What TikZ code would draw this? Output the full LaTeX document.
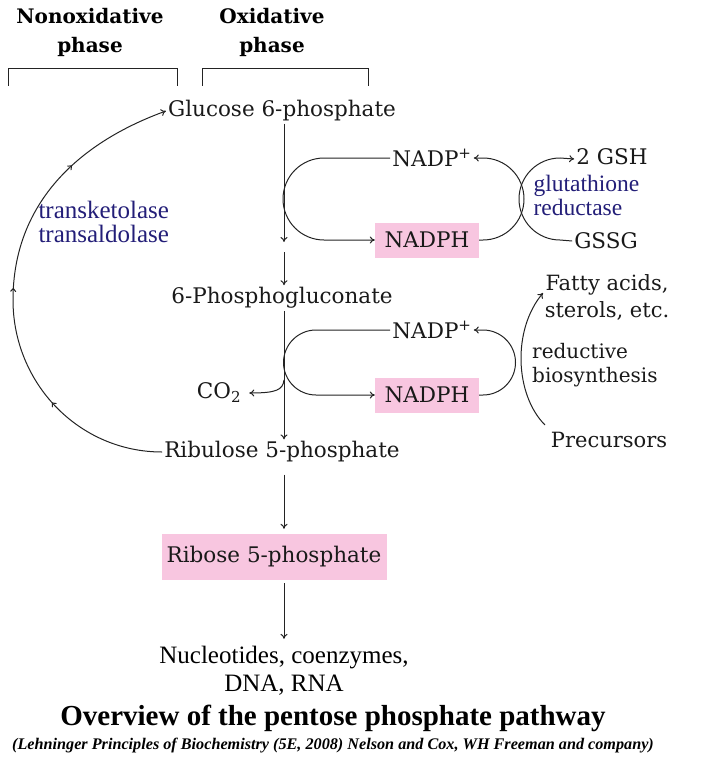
\documentclass[tikz,border=0pt]{standalone}
\usepackage{fontspec}
\usepackage{graphicx}
\usetikzlibrary{arrows.meta,decorations.markings}

\setmainfont{DejaVu Serif}
\newfontfamily\timesfont{Liberation Serif}
\definecolor{enzblue}{RGB}{35,30,120}
\definecolor{boxpink}{RGB}{248,198,224}
\definecolor{linegray}{RGB}{35,35,35}

\tikzset{
  met/.style={font=\fontsize{21.5}{26}\selectfont, inner sep=2pt, text=black!90},
  pinkbox/.style={met, fill=boxpink, minimum height=35pt, minimum width=104pt},
  enz/.style={font=\timesfont\fontsize{25}{24}\selectfont, text=enzblue, align=left},
  flow/.style={linegray, line width=1pt, -{To[length=5pt,width=7pt]}},
  midtip/.style={postaction={decorate}, decoration={markings,
      mark=at position 0.25 with {\arrow{To[length=4pt,width=6pt]}},
      mark=at position 0.5 with {\arrow{To[length=4pt,width=6pt]}},
      mark=at position 0.78 with {\arrow{To[length=4pt,width=6pt]}}}},
}

\begin{document}
\begin{tikzpicture}[x=1pt,y=1pt]
\useasboundingbox (0,0) rectangle (707,-765);

% phase headings with their brackets
\foreach \cx/\txt/\xl/\xr in {90/Nonoxidative/8/177, 272/Oxidative/202/368}{
  \node[font=\bfseries\fontsize{20}{29}\selectfont, align=center] (hd\xl) at (\cx,-32) {\txt\\phase};
  \draw[linegray, line width=1pt] (\xl,-86) -- (\xl,-69) -- (\xr,-69) -- (\xr,-86);
}

% main chain
\coordinate (spine) at (284,0);
\node[met] (glc) at (282,-111) {Glucose 6-phosphate};
\node[met] (pgl) at (282,-298) {6-Phosphogluconate};
\node[met] (rul) at (282,-452) {Ribulose 5-phosphate};
\node[met, fill=boxpink, minimum width=225pt, minimum height=46pt] (rib) at (274,-557) {Ribose 5-phosphate};
\node[font=\timesfont\fontsize{25}{28}\selectfont, align=center] (nuc) at (284,-671) {Nucleotides, coenzymes,\\DNA, RNA};

\coordinate (splita) at (284,-242);
\coordinate (splitb) at (284,-252);
\draw[flow] (glc.south -| spine) -- (splita);
\draw[flow] (splitb) -- (pgl.north -| spine);
\draw[flow] (pgl.south -| spine) -- (rul.north -| spine);
\draw[flow, shorten <=10pt, shorten >=5pt] (rul.south -| spine) -- (rib.north -| spine);
\draw[flow, shorten <=3pt, shorten >=4pt] (rib.south -| spine) -- (nuc.north -| spine);

% CO2 release
\node[met] (co2) at (219,-393) {CO\textsubscript{2}};
\coordinate (co2src) at (284,-380);
\draw[flow] (co2src) .. controls (283,-390) and (276,-393) .. ([xshift=6pt]co2.east);

% first NADPH cycle (glutathione)
\node[met] (nadpa) at (432,-158) {NADP\textsuperscript{+}};
\node[pinkbox] (nadpha) at (427,-240) {NADPH};
\draw[flow] (nadpa.west) -- (324,-158) arc[start angle=90, end angle=270, radius=41] -- (nadpha.west);
\draw[flow] (nadpha.east) -- (483,-240) arc[start angle=-90, end angle=90, radius=41] -- (nadpa.east);

\node[met] (gsh) at (612,-157) {2 GSH};
\node[met] (gssg) at (606,-241) {GSSG};
\node[enz, font=\timesfont\fontsize{23.5}{24}\selectfont, anchor=west] (gr) at (530,-195) {glutathione\\reductase};
\draw[flow] (gssg.west) -- (560,-240) arc[start angle=270, end angle=90, radius=41] -- (gsh.west |- 0,-159);

% second NADPH cycle (reductive biosynthesis)
\node[met] (nadpb) at (432,-330) {NADP\textsuperscript{+}};
\node[pinkbox] (nadphb) at (427,-395) {NADPH};
\draw[flow] (nadpb.west) -- (316,-330) arc[start angle=90, end angle=270, radius=32.5] -- (nadphb.west);
\draw[flow] (nadphb.east) -- (483,-395) arc[start angle=-90, end angle=90, radius=32.5] -- (nadpb.east);

\node[met, align=center, font=\fontsize{21}{27}\selectfont] (fatty) at (607,-297) {Fatty acids,\\sterols, etc.};
\node[met, font=\fontsize{21}{26}\selectfont] (prec) at (609,-440) {Precursors};
\node[met, align=left, anchor=west, font=\fontsize{20}{24}\selectfont] (redbio) at (530,-365) {reductive\\biosynthesis};
\coordinate (precout) at (545,-425);
\coordinate (fattyin) at (543,-293);
\draw[flow] (precout) .. controls (515,-395) and (512,-330) .. (fattyin);

% regeneration of glucose 6-phosphate
\node[enz, anchor=west] (tk) at (35,-222) {transketolase\\transaldolase};
\coordinate (farleft) at (13,-300);
\draw[flow, midtip] (rul.west) to[out=180, in=270] (farleft) to[out=90, in=200] (glc.west);

% caption
\node[font=\timesfont\bfseries\fontsize{29}{32}\selectfont] (title) at (333,-718) {Overview of the pentose phosphate pathway};
\node[font=\timesfont\bfseries\itshape\fontsize{16.2}{18}\selectfont] (cite) at (333,-746) {(Lehninger Principles of Biochemistry (5E, 2008) Nelson and Cox, WH Freeman and company)};
\end{tikzpicture}
\end{document}
